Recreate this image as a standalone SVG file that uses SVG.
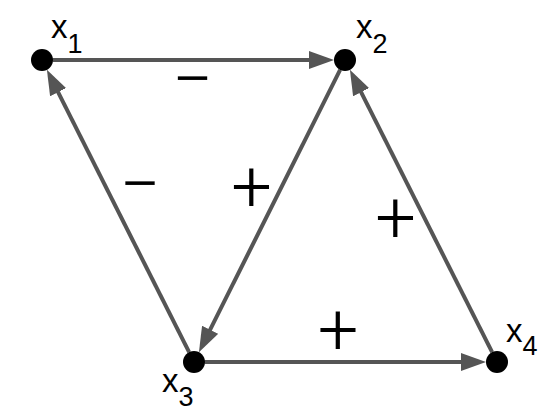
<svg xmlns="http://www.w3.org/2000/svg" width="550" height="419" viewBox="0 0 550 419">
<style>
.edge{stroke:#555;stroke-width:4;fill:none;marker-end:url(#ah)}
.node{fill:#000}
.lbl{font-family:"Liberation Sans",Arial,sans-serif;font-size:33px;fill:#000}
.sub{font-size:27px}
.sign{font-family:Roboto,"Liberation Sans",sans-serif;font-weight:300;font-size:72px;fill:#000;text-anchor:middle}
</style>
<defs>
<marker id="ah" markerUnits="userSpaceOnUse" markerWidth="25" markerHeight="18" refX="15" refY="9" orient="auto">
<path d="M0,0 L25,9 L0,18 Z" fill="#555"/>
</marker>
</defs>
<rect width="550" height="419" fill="#fff"/>
<g id="connectors">
<line class="edge" x1="53" y1="60" x2="324" y2="60"/>
<line class="edge" x1="189.1" y1="352.2" x2="51.4" y2="78.8"/>
<line class="edge" x1="340.1" y1="69.8" x2="203.4" y2="343.2"/>
<line class="edge" x1="492.1" y1="352.2" x2="354.4" y2="78.8"/>
<line class="edge" x1="205" y1="362" x2="476" y2="362"/>
</g>
<g id="edge-labels">
<text class="sign" x="192.5" y="104">−</text>
<text class="sign" x="140" y="209">−</text>
<text class="sign" x="251.5" y="211">+</text>
<text class="sign" x="395.5" y="242">+</text>
<text class="sign" x="338" y="354">+</text>
</g>
<g id="x1"><circle class="node" cx="42" cy="60" r="11"/><text class="lbl" x="51" y="38">x<tspan class="sub" dy="15">1</tspan></text></g>
<g id="x2"><circle class="node" cx="345" cy="60" r="11"/><text class="lbl" x="356" y="38">x<tspan class="sub" dy="15">2</tspan></text></g>
<g id="x3"><circle class="node" cx="194" cy="362" r="11"/><text class="lbl" x="162" y="392">x<tspan class="sub" dy="14">3</tspan></text></g>
<g id="x4"><circle class="node" cx="497" cy="362" r="11"/><text class="lbl" x="506" y="342">x<tspan class="sub" dy="13">4</tspan></text></g>
</svg>
